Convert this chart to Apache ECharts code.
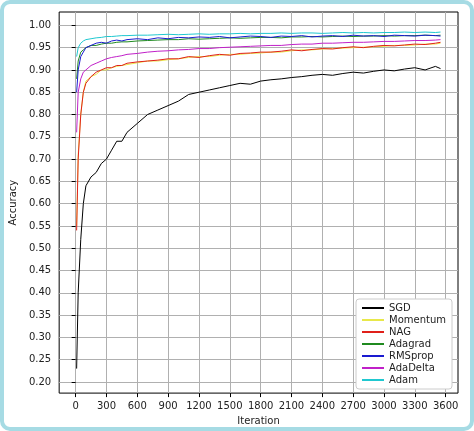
<!DOCTYPE html>
<html>
<head>
<meta charset="utf-8">
<script src="https://cdn.jsdelivr.net/npm/echarts@6/dist/echarts.min.js"></script>
<style>
html,body{margin:0;padding:0;background:#fff;}
#wrap{position:absolute;left:0;top:0;width:466px;height:423px;border:4px solid #a6dbe4;border-radius:10px;}
#chart{width:474px;height:431px;position:absolute;left:0;top:0;}
</style>
</head>
<body>
<div id="wrap"></div>
<div id="chart"></div>
<script>
var iters = [10,25,50,75,100,150,200,250,300,350,400,450,500,
  600,700,800,900,1000,1100,1200,1300,1400,1500,1600,1700,1800,1900,2000,2100,2200,
  2300,2400,2500,2600,2700,2800,2900,3000,3100,3200,3300,3400,3500,3550];
var sgd = [.23,.40,.52,.60,.64,.66,.67,.69,.70,.72,.74,.74,.76,.78,.80,.81,.82,.83,.845,.85,
  .855,.86,.865,.87,.868,.875,.878,.88,.883,.885,.888,.89,.888,.892,.895,.893,.897,.9,.898,.902,
  .905,.9,.908,.903];
var momentum = [.55,.71,.80,.85,.875,.885,.89,.9,.9,.905,.908,.91,.912,.916,.92,.92,.923,.925,.928,.93,
  .93,.933,.935,.935,.937,.938,.94,.94,.943,.945,.945,.947,.948,.949,.95,.951,.952,.953,.955,.955,
  .956,.958,.958,.96];
var nag = [.54,.70,.80,.85,.87,.885,.895,.9,.905,.905,.91,.91,.915,.918,.92,.922,.925,.925,.93,.928,
  .932,.935,.933,.937,.938,.94,.94,.942,.945,.943,.946,.948,.947,.95,.952,.95,.953,.955,.954,.956,
  .958,.957,.96,.962];
var adagrad = [.88,.92,.94,.945,.95,.955,.955,.958,.96,.96,.962,.963,.963,.965,.966,.967,.968,.968,.97,.969,
  .97,.971,.972,.971,.972,.973,.973,.972,.974,.974,.975,.974,.975,.976,.975,.976,.976,.977,.976,.977,
  .977,.978,.977,.978];
var rmsprop = [.85,.90,.93,.94,.95,.955,.96,.962,.96,.965,.967,.965,.968,.97,.968,.972,.97,.973,.972,.974,
  .973,.975,.972,.974,.976,.975,.973,.976,.975,.977,.974,.976,.977,.975,.978,.976,.977,.975,.978,.977,
  .976,.978,.977,.976];
var adadelta = [.76,.85,.88,.895,.90,.91,.915,.92,.925,.928,.93,.932,.935,.937,.94,.942,.943,.945,.946,.948,
  .948,.95,.951,.952,.953,.954,.955,.955,.957,.958,.958,.96,.96,.961,.962,.962,.963,.964,.964,.965,
  .966,.966,.967,.968];
var adam = [.93,.95,.96,.965,.968,.97,.972,.973,.975,.975,.976,.977,.977,.978,.978,.979,.98,.979,.98,.981,
  .98,.981,.981,.982,.981,.982,.982,.983,.982,.983,.983,.982,.983,.984,.983,.984,.983,.984,.984,.985,
  .984,.985,.984,.985];
var xTicks = [0,300,600,900,1200,1500,1800,2100,2400,2700,3000,3300,3600];
var yTicks = [0.20,0.25,0.30,0.35,0.40,0.45,0.50,0.55,0.60,0.65,0.70,0.75,0.80,0.85,0.90,0.95,1.00];

var names = ['SGD','Momentum','NAG','Adagrad','RMSprop','AdaDelta','Adam'];
var colors = ['#000000','#e8e84a','#e0201a','#1f8a1f','#1a1ad0','#c020c8','#20c8d0'];
var values = [sgd,momentum,nag,adagrad,rmsprop,adadelta,adam];

function pairs(v){ return iters.map(function(x,i){ return [x,v[i]]; }); }

var chart = echarts.init(document.getElementById('chart'));
var font = 'DejaVu Sans';
chart.setOption({
  animation:false,
  textStyle:{fontFamily:font},
  grid:{left:47,right:16,top:12,bottom:36,show:true,borderColor:'#000',borderWidth:1},
  legend:{
    orient:'vertical',right:22,bottom:42,data:names,
    backgroundColor:'#fff',borderColor:'#ccc',borderWidth:1,borderRadius:3,
    padding:[4,6],itemGap:2,itemWidth:22,itemHeight:2,icon:'rect',
    textStyle:{fontSize:10,color:'#222'}
  },
  xAxis:{
    type:'value',min:-160,max:3720,name:'Iteration',nameLocation:'middle',nameGap:22,
    nameTextStyle:{fontSize:10,color:'#222'},
    axisLine:{show:false},
    axisTick:{show:true,customValues:xTicks,length:4,lineStyle:{color:'#000'}},
    axisLabel:{customValues:xTicks,fontSize:10,color:'#222',formatter:function(v){return String(v);}},
    splitLine:{show:true,lineStyle:{color:'#b0b0b0'}}
  },
  yAxis:{
    type:'value',min:0.175,max:1.03,name:'Accuracy',nameLocation:'middle',nameGap:36,
    nameTextStyle:{fontSize:10,color:'#222'},
    axisLine:{show:false},
    axisTick:{show:true,customValues:yTicks,length:4,lineStyle:{color:'#000'}},
    axisLabel:{customValues:yTicks,fontSize:10,color:'#222',formatter:function(v){return v.toFixed(2);}},
    splitLine:{show:true,lineStyle:{color:'#b0b0b0'}}
  },
  series: names.map(function(n,i){
    return {name:n,type:'line',data:pairs(values[i]),showSymbol:false,color:colors[i],
      lineStyle:{width:1,color:colors[i]}};
  })
});
</script>
</body>
</html>
